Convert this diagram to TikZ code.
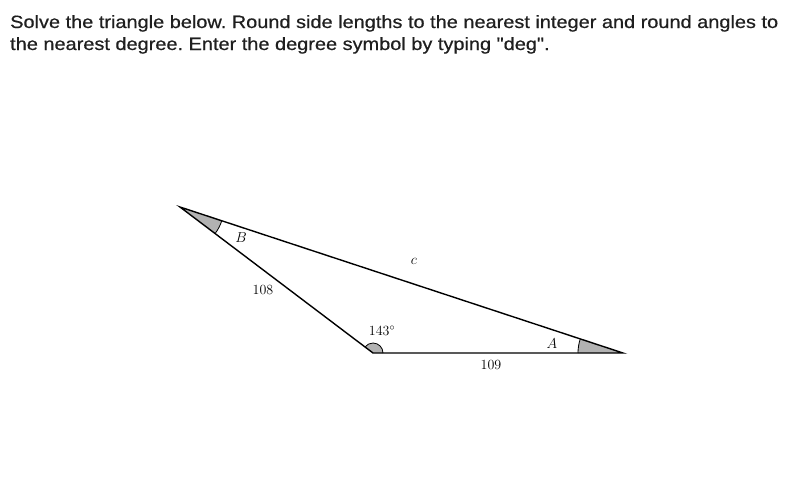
\documentclass[tikz,border=0pt]{standalone}
\usepackage{fontspec}
\usetikzlibrary{calc}
\newfontfamily\headfont[FakeBold=0.6,FakeStretch=1.12]{Liberation Sans}
\begin{document}
\begin{tikzpicture}[x=1pt,y=-1pt,
  head/.style={font=\headfont\fontsize{17.8}{20}\selectfont\frenchspacing, anchor=base west, inner sep=0pt, text=black!88},
  lbl/.style={font=\fontsize{14}{16}\selectfont, inner sep=0pt},
  side/.style={draw=black, line width=1.4pt},
  wedgefill/.style={fill=black!30},
  wedgeline/.style={draw=black, line width=0.8pt}]
\useasboundingbox (0,0) rectangle (793,501);
\node[head] (t1) at (10,28) {Solve the triangle below. Round side lengths to the nearest integer and round angles to};
\node[head] (t2) at (10,50) {the nearest degree. Enter the degree symbol by typing "deg".};
\coordinate (B) at (180,207);
\coordinate (C) at (373,353);
\coordinate (A) at (623,353);
% angle wedges
\fill[wedgefill] (B) -- ($(B)!44pt!(A)$) arc[start angle=-18.2, end angle=-37.1, radius=44pt] -- cycle;
\draw[wedgeline] ($(B)!44pt!(A)$) arc[start angle=-18.2, end angle=-37.1, radius=44pt];
\fill[wedgefill] (A) -- ($(A)!45pt!(C)$) arc[start angle=180, end angle=161.8, radius=45pt] -- cycle;
\draw[wedgeline] ($(A)!45pt!(C)$) arc[start angle=180, end angle=161.8, radius=45pt];
\fill[wedgefill] (C) -- ($(C)!10pt!(A)$) arc[start angle=0, end angle=142.9, radius=10pt] -- cycle;
\draw[wedgeline] ($(C)!10pt!(A)$) arc[start angle=0, end angle=142.9, radius=10pt];
% sides
\draw[side, line join=miter] (B) -- (C) -- (A) -- cycle;
% labels
\node[lbl] (lB) at (241,238) {$B$};
\node[lbl] (lc) at (414,261) {$c$};
\node[lbl] (l108) at (263,290) {108};
\node[lbl] (l143) at (382,331) {143$^\circ$};
\node[lbl] (lA) at (552,344) {$A$};
\node[lbl] (l109) at (491,365) {109};
\end{tikzpicture}
\end{document}
